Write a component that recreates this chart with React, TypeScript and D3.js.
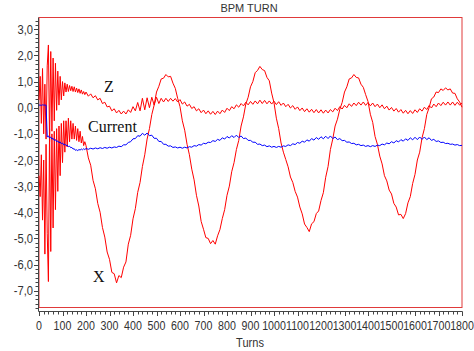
import * as d3 from "d3";

const W = 474;
const H = 351;

// turns axis: dense sampling at the start, then every 10 turns
const earlyTurns = d3.range(0, 200, 5);
const mainTurns = d3.range(200, 1801, 10);

const xEarly = [
  -2.6, -3.4, -1.8, -4.3, -2.0, -5.6, -1.4, -4.8, -6.65, -0.8,
  -5.5, -1.0, -4.6, -0.9, -3.9, -0.8, -3.2, -0.7, -2.6, -0.6,
  -2.1, -0.5, -1.7, -0.5, -1.5, -0.4, -1.3, -0.5, -1.2, -0.6,
  -1.2, -0.7, -1.25, -0.8, -1.3, -0.9, -1.35, -1.1, -1.45, -1.3,
];
const xMain = [
  -1.45, -1.92, -2.2, -2.78, -3.1, -3.66, -4.0, -4.58, -4.95, -5.52,
  -5.8, -6.3, -6.35, -6.7, -6.42, -6.5, -6.1, -5.9, -5.22, -4.88,
  -4.25, -3.86, -3.24, -2.86, -2.25, -1.8, -1.2, -0.8, -0.26, 0.1,
  0.6, 0.82, 1.1, 1.13, 1.27, 1.18, 1.2, 0.94, 0.74, 0.36,
  0.04, -0.5, -0.86, -1.4, -1.8, -2.35, -2.76, -3.35, -3.76, -4.35,
  -4.65, -4.97, -5.0, -5.2, -5.08, -5.22, -4.9, -4.66, -4.24, -3.9,
  -3.35, -3.0, -2.45, -2.1, -1.6, -1.25, -0.7, -0.35, 0.14, 0.4,
  0.8, 1.0, 1.34, 1.43, 1.58, 1.46, 1.42, 1.16, 1.03, 0.56,
  0.19, -0.4, -0.8, -1.35, -1.7, -1.98, -2.26, -2.65, -2.86, -3.2,
  -3.42, -3.8, -4.06, -4.45, -4.58, -4.74, -4.44, -4.36, -4.05, -3.95,
  -3.55, -3.25, -2.66, -2.25, -1.6, -1.2, -0.7, -0.44, -0.06, 0.2,
  0.6, 0.8, 1.1, 1.14, 1.27, 1.16, 1.14, 0.9, 0.78, 0.5,
  0.24, -0.25, -0.56, -1.1, -1.4, -1.85, -2.15, -2.6, -2.8, -3.15,
  -3.3, -3.66, -3.8, -4.1, -4.08, -4.24, -4.05, -3.64, -3.4, -2.9,
  -2.55, -2.0, -1.7, -1.15, -0.8, -0.26, 0.0, 0.34, 0.41, 0.6,
  0.58, 0.72, 0.66, 0.76, 0.68, 0.72, 0.56, 0.55, 0.34, 0.22,
  0.02,
];

const zEarly = [
  0.3, 1.2, -0.6, 1.5, -1.0, 0.9, -1.2, 1.6, 2.4, -1.3,
  2.15, -0.9, 1.9, -0.5, 1.7, -0.1, 1.4, 0.1, 1.2, 0.3,
  1.0, 0.45, 0.95, 0.6, 0.9, 0.62, 0.85, 0.65, 0.82, 0.62,
  0.8, 0.6, 0.75, 0.58, 0.72, 0.55, 0.68, 0.52, 0.62, 0.5,
];
const zMain = [
  0.6, 0.44, 0.53, 0.38, 0.46, 0.3, 0.36, 0.16, 0.21, 0.03,
  0.06, -0.12, -0.04, -0.2, -0.1, -0.24, -0.13, -0.24, -0.08, -0.18,
  0.04, -0.12, 0.2, -0.12, 0.36, -0.08, 0.38, 0.0, 0.4, 0.1,
  0.4, 0.16, 0.36, 0.22, 0.36, 0.24, 0.36, 0.25, 0.35, 0.22,
  0.31, 0.14, 0.22, 0.06, 0.13, -0.03, 0.04, -0.12, -0.04, -0.19,
  -0.09, -0.23, -0.12, -0.25, -0.14, -0.26, -0.13, -0.23, -0.09, -0.18,
  -0.02, -0.11, 0.04, -0.04, 0.11, 0.02, 0.16, 0.07, 0.21, 0.11,
  0.24, 0.13, 0.26, 0.15, 0.29, 0.16, 0.28, 0.15, 0.26, 0.14,
  0.25, 0.12, 0.23, 0.09, 0.18, 0.04, 0.13, -0.01, 0.08, -0.06,
  0.03, -0.11, -0.01, -0.15, -0.04, -0.17, -0.06, -0.19, -0.07, -0.2,
  -0.08, -0.21, -0.09, -0.2, -0.07, -0.16, -0.02, -0.11, 0.04, -0.05,
  0.09, 0.0, 0.15, 0.05, 0.18, 0.08, 0.21, 0.1, 0.22, 0.09,
  0.2, 0.07, 0.18, 0.04, 0.14, 0.0, 0.11, -0.04, 0.06, -0.09,
  0.01, -0.13, -0.03, -0.17, -0.07, -0.21, -0.1, -0.23, -0.11, -0.22,
  -0.08, -0.18, -0.04, -0.13, 0.02, -0.07, 0.08, -0.01, 0.14, 0.04,
  0.18, 0.08, 0.21, 0.1, 0.22, 0.1, 0.22, 0.09, 0.21, 0.1,
  0.18,
];

const curEarly = [
  0.1, 0.1, 0.09, 0.11, 0.1, 0.1, 0.1, -1.12, -1.08, -1.16,
  -1.12, -1.2, -1.17, -1.25, -1.22, -1.3, -1.27, -1.34, -1.31, -1.38,
  -1.35, -1.42, -1.39, -1.45, -1.43, -1.49, -1.47, -1.53, -1.52, -1.58,
  -1.57, -1.63, -1.61, -1.64, -1.6, -1.62, -1.58, -1.61, -1.57, -1.6,
];
const curMain = [
  -1.56, -1.59, -1.55, -1.58, -1.54, -1.57, -1.53, -1.56, -1.52, -1.55,
  -1.51, -1.54, -1.5, -1.52, -1.47, -1.49, -1.42, -1.42, -1.33, -1.3,
  -1.19, -1.18, -1.07, -1.09, -0.98, -1.05, -0.97, -1.07, -1.05, -1.17,
  -1.17, -1.29, -1.29, -1.4, -1.4, -1.47, -1.46, -1.52, -1.5, -1.54,
  -1.51, -1.55, -1.51, -1.54, -1.49, -1.51, -1.45, -1.47, -1.41, -1.43,
  -1.36, -1.38, -1.32, -1.33, -1.26, -1.29, -1.21, -1.25, -1.15, -1.2,
  -1.1, -1.16, -1.07, -1.14, -1.05, -1.14, -1.08, -1.18, -1.16, -1.25,
  -1.25, -1.32, -1.32, -1.4, -1.39, -1.45, -1.43, -1.49, -1.46, -1.51,
  -1.48, -1.52, -1.48, -1.51, -1.46, -1.48, -1.42, -1.45, -1.38, -1.41,
  -1.33, -1.36, -1.28, -1.32, -1.23, -1.28, -1.18, -1.24, -1.14, -1.21,
  -1.11, -1.19, -1.09, -1.18, -1.08, -1.18, -1.12, -1.22, -1.18, -1.26,
  -1.25, -1.32, -1.31, -1.37, -1.36, -1.42, -1.4, -1.45, -1.43, -1.48,
  -1.45, -1.49, -1.45, -1.48, -1.43, -1.45, -1.39, -1.42, -1.35, -1.38,
  -1.3, -1.35, -1.26, -1.31, -1.22, -1.28, -1.19, -1.25, -1.15, -1.23,
  -1.13, -1.22, -1.12, -1.21, -1.12, -1.22, -1.15, -1.25, -1.21, -1.29,
  -1.27, -1.33, -1.32, -1.37, -1.36, -1.4, -1.39, -1.43, -1.41, -1.45,
  -1.44,
];

const yTicks = [3, 2, 1, 0, -1, -2, -3, -4, -5, -6, -7];
const xTicks = d3.range(0, 1801, 100);

const turns = [...earlyTurns, ...mainTurns];
const pairs = (vals: number[]) =>
  turns.slice(0, vals.length).map((t, i) => [t, vals[i]] as [number, number]);

const seriesX = pairs([...xEarly, ...xMain]);
const seriesZ = pairs([...zEarly, ...zMain]);
const seriesCur = pairs([...curEarly, ...curMain]);

export default function App() {
  const left = 39;
  const right = 462;
  const top = 17.5;
  const bottom = 307.5;
  const axisY = 311.5;

  const x = d3.scaleLinear().domain([0, 1800]).range([left, right]);
  const y = d3.scaleLinear().domain([-7, 3]).range([290.7, 29.3]);

  const line = d3
    .line<[number, number]>()
    .x((d) => x(d[0]))
    .y((d) => y(d[1]));

  // minor ticks
  const xMinor = d3.range(0, 1801, 20);
  const yMinor = d3.range(-7.8, 3.45, 1 / 6).map((v) => Math.round(v * 6) / 6);

  const axisColor = "#444";
  const labelFont = "'Liberation Sans', Arial, sans-serif";

  return (
    <svg
      width={W}
      height={H}
      style={{ position: "absolute", left: 0, top: 0, background: "#fff" }}
    >
      <text
        x={249}
        y={11.5}
        textAnchor="middle"
        fontFamily={labelFont}
        fontSize={11}
        fill="#333"
      >
        BPM TURN
      </text>

      {/* plot frame */}
      <rect
        x={left}
        y={top}
        width={right - left}
        height={bottom - top}
        fill="none"
        stroke="#e03a3a"
        strokeWidth={1}
      />

      {/* left axis */}
      <line x1={38.5} x2={38.5} y1={top} y2={axisY} stroke={axisColor} />
      {yMinor
        .filter((v) => y(v) >= top && y(v) <= axisY)
        .map((v, i) => (
          <line
            key={"ym" + i}
            x1={35.5}
            x2={38.5}
            y1={Math.round(y(v)) + 0.5}
            y2={Math.round(y(v)) + 0.5}
            stroke={axisColor}
          />
        ))}
      {yTicks.map((v) => (
        <g key={"y" + v}>
          <line
            x1={34}
            x2={38.5}
            y1={Math.round(y(v)) + 0.5}
            y2={Math.round(y(v)) + 0.5}
            stroke={axisColor}
          />
          <text
            transform={`translate(33,${y(v) + 4.5}) scale(0.86,1)`}
            textAnchor="end"
            fontFamily={labelFont}
            fontSize={13}
            fill="#333"
          >
            {d3.format(".1f")(v).replace(".", ",").replace("−", "-")}
          </text>
        </g>
      ))}

      {/* bottom axis */}
      <line x1={38.5} x2={right} y1={axisY} y2={axisY} stroke={axisColor} />
      {xMinor.map((v) => (
        <line
          key={"xm" + v}
          x1={Math.round(x(v)) + 0.5}
          x2={Math.round(x(v)) + 0.5}
          y1={axisY}
          y2={axisY + 3}
          stroke={axisColor}
        />
      ))}
      {xTicks.map((v) => (
        <g key={"x" + v}>
          <line
            x1={Math.round(x(v)) + 0.5}
            x2={Math.round(x(v)) + 0.5}
            y1={axisY}
            y2={axisY + 4.5}
            stroke={axisColor}
          />
          <text
            transform={`translate(${x(v)},330) scale(0.82,1)`}
            textAnchor="middle"
            fontFamily={labelFont}
            fontSize={13}
            fill="#333"
          >
            {v}
          </text>
        </g>
      ))}
      <text
        transform={`translate(250,347) scale(0.85,1)`}
        textAnchor="middle"
        fontFamily={labelFont}
        fontSize={13}
        fill="#333"
      >
        Turns
      </text>

      {/* series */}
      <path d={line(seriesX) || ""} fill="none" stroke="#ff0000" strokeWidth={1} />
      <path d={line(seriesZ) || ""} fill="none" stroke="#ff0000" strokeWidth={1} />
      <path d={line(seriesCur) || ""} fill="none" stroke="#0000ff" strokeWidth={1} />

      {/* curve labels */}
      <text x={104} y={92} fontFamily="'Liberation Serif', 'Times New Roman', serif" fontSize={16} fill="#111">
        Z
      </text>
      <text x={88} y={132} fontFamily="'Liberation Serif', 'Times New Roman', serif" fontSize={16} fill="#111">
        Current
      </text>
      <text x={93} y={282} fontFamily="'Liberation Serif', 'Times New Roman', serif" fontSize={16} fill="#111">
        X
      </text>
    </svg>
  );
}
